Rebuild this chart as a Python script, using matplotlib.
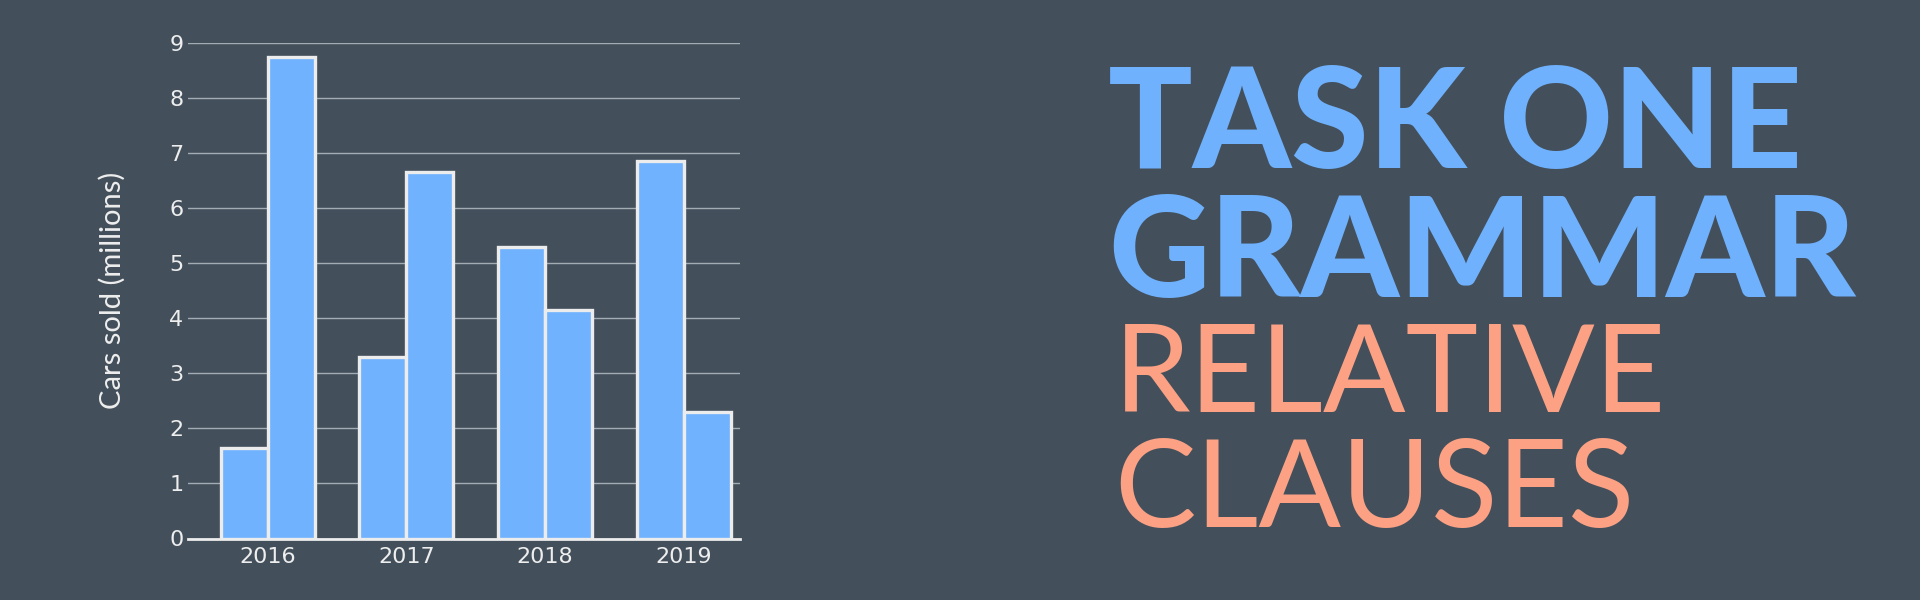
import matplotlib
matplotlib.use("Agg")
import matplotlib.pyplot as plt
import numpy as np

# ---- data ----
years = ["2016", "2017", "2018", "2019"]
series_a = [1.65, 3.3, 5.3, 6.85]
series_b = [8.75, 6.65, 4.15, 2.3]
y_ticks = [0, 1, 2, 3, 4, 5, 6, 7, 8, 9]
y_label = "Cars sold (millions)"
title_lines = ["TASK ONE", "GRAMMAR"]
subtitle_lines = ["RELATIVE", "CLAUSES"]

BG = "#43505c"
BAR = "#70b2fe"
EDGE = "#ececec"
GRID = "#a3abb3"
TXT = "#eeeeee"
BLUE_T = "#6fb1fc"
SALMON = "#fca183"

fig = plt.figure(figsize=(19.2, 6.0), dpi=100, facecolor=BG)
ax = fig.add_axes([0.0977, 0.1025, 0.2875, 0.8258])
ax.set_facecolor(BG)

x = np.arange(len(years))
w = 0.339
ax.bar(x - w / 2, series_a, width=w, color=BAR, edgecolor=EDGE, linewidth=2.4, zorder=3)
ax.bar(x + w / 2, series_b, width=w, color=BAR, edgecolor=EDGE, linewidth=2.4, zorder=3)

ax.set_xlim(-0.578, 3.403)
ax.set_ylim(0, 9)
ax.set_yticks(y_ticks)
ax.set_yticklabels([str(t) for t in y_ticks], fontsize=16, color=TXT, family="DejaVu Sans")
ax.set_xticks(x)
ax.set_xticklabels(years, fontsize=16, color=TXT, family="DejaVu Sans")
ax.tick_params(axis="both", length=0)
ax.tick_params(axis="y", pad=3)
ax.tick_params(axis="x", pad=6)
ax.yaxis.grid(True, color=GRID, linewidth=1.0, zorder=0)
ax.set_axisbelow(True)
for s in ["top", "right", "left"]:
    ax.spines[s].set_visible(False)
ax.spines["bottom"].set_color(EDGE)
ax.spines["bottom"].set_linewidth(2.0)
ax.spines["bottom"].set_zorder(4)

ax.set_ylabel(y_label, fontsize=21, color=TXT, family="Lato", labelpad=31)

# ---- right-hand title ----
fig.text(1108 / 1920, 1 - 168 / 600, title_lines[0], fontsize=101, color=BLUE_T,
         family="Lato", fontweight="black", ha="left", va="baseline")
fig.text(1108 / 1920, 1 - 297 / 600, title_lines[1], fontsize=101, color=BLUE_T,
         family="Lato", fontweight="black", ha="left", va="baseline")
fig.text(1114 / 1920, 1 - 412 / 600, subtitle_lines[0], fontsize=88, color=SALMON,
         family="Lato", fontweight="normal", ha="left", va="baseline")
fig.text(1114 / 1920, 1 - 527 / 600, subtitle_lines[1], fontsize=88, color=SALMON,
         family="Lato", fontweight="normal", ha="left", va="baseline")

fig.savefig("out.png", dpi=100, facecolor=BG)
